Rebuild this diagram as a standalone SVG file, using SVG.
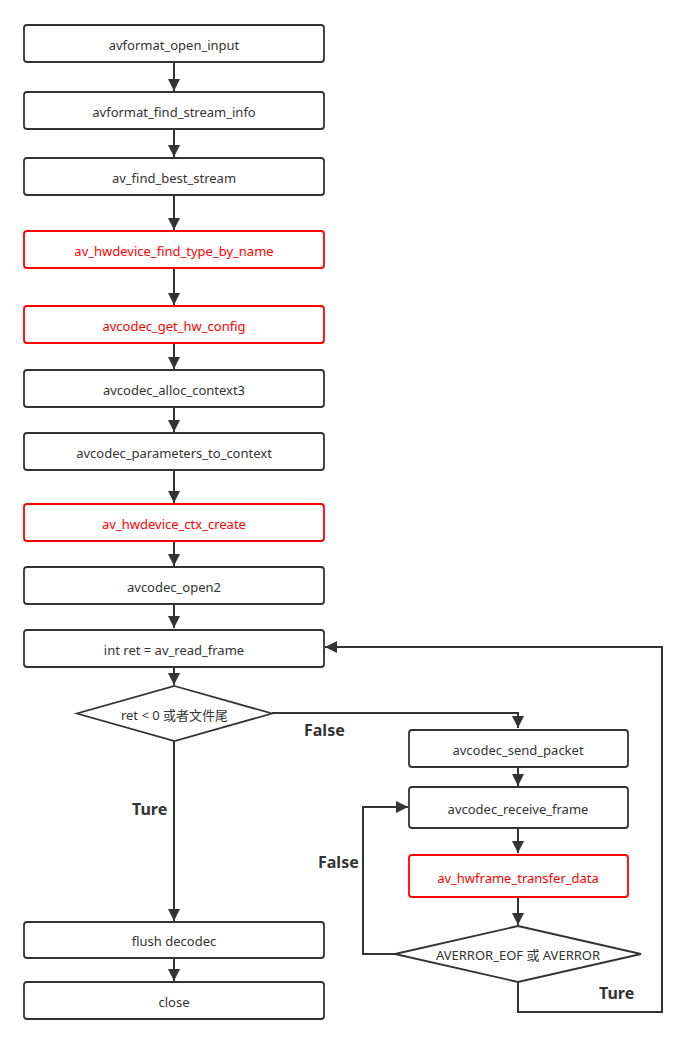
<svg xmlns="http://www.w3.org/2000/svg" width="686" height="1045" viewBox="0 0 686 1045">
<style>
.b{fill:#fff;stroke:#333;stroke-width:1.8}
.r{fill:#fff;stroke:#f00;stroke-width:1.8}
.t{font-family:"Noto Sans","Noto Sans CJK SC",sans-serif;font-size:13px;fill:#333;text-anchor:middle}
.tr{fill:#f00}
.l{font-family:"Noto Sans",sans-serif;font-size:16px;font-weight:bold;fill:#333}
.c{fill:none;stroke:#333;stroke-width:2}
</style>
<defs>
<marker id="a" markerUnits="userSpaceOnUse" markerWidth="12" markerHeight="12" viewBox="0 0 12 12" refX="12" refY="6" orient="auto">
<path d="M0,0 L12,6 L0,12 z" fill="#333"/>
</marker>
</defs>
<rect width="686" height="1045" fill="#fff"/>
<g id="connectors">
<path class="c" d="M174,62 V91" marker-end="url(#a)"/>
<path class="c" d="M174,129 V157" marker-end="url(#a)"/>
<path class="c" d="M174,195 V230" marker-end="url(#a)"/>
<path class="c" d="M174,268 V305" marker-end="url(#a)"/>
<path class="c" d="M174,343 V369" marker-end="url(#a)"/>
<path class="c" d="M174,407 V432" marker-end="url(#a)"/>
<path class="c" d="M174,470 V503" marker-end="url(#a)"/>
<path class="c" d="M174,541 V566" marker-end="url(#a)"/>
<path class="c" d="M174,604 V628" marker-end="url(#a)"/>
<path class="c" d="M174,667 V685" marker-end="url(#a)"/>
<path class="c" d="M174,741 V921" marker-end="url(#a)"/>
<path class="c" d="M174,958 V981" marker-end="url(#a)"/>
<path class="c" d="M272,713 H518 V728" marker-end="url(#a)"/>
<path class="c" d="M518,767 V786" marker-end="url(#a)"/>
<path class="c" d="M518,828 V853" marker-end="url(#a)"/>
<path class="c" d="M518,897 V925" marker-end="url(#a)"/>
<path class="c" d="M395,954 H363 V807 H408" marker-end="url(#a)"/>
<path class="c" d="M518,982 V1012 H662 V647 H325" marker-end="url(#a)"/>
<text class="l" x="304" y="736">False</text>
<text class="l" x="132" y="815">Ture</text>
<text class="l" x="318" y="868">False</text>
<text class="l" x="599" y="999">Ture</text>
</g>
<g id="n1"><rect class="b" x="24" y="25" width="300" height="37" rx="3"/><text class="t" x="174" y="50">avformat_open_input</text></g>
<g id="n2"><rect class="b" x="24" y="92" width="300" height="37" rx="3"/><text class="t" x="174" y="117">avformat_find_stream_info</text></g>
<g id="n3"><rect class="b" x="24" y="158" width="300" height="37" rx="3"/><text class="t" x="174" y="183">av_find_best_stream</text></g>
<g id="n4"><rect class="r" x="24" y="231" width="300" height="37" rx="3"/><text class="t tr" x="174" y="256">av_hwdevice_find_type_by_name</text></g>
<g id="n5"><rect class="r" x="24" y="306" width="300" height="37" rx="3"/><text class="t tr" x="174" y="331">avcodec_get_hw_config</text></g>
<g id="n6"><rect class="b" x="24" y="370" width="300" height="37" rx="3"/><text class="t" x="174" y="395">avcodec_alloc_context3</text></g>
<g id="n7"><rect class="b" x="24" y="433" width="300" height="37" rx="3"/><text class="t" x="174" y="458">avcodec_parameters_to_context</text></g>
<g id="n8"><rect class="r" x="24" y="504" width="300" height="37" rx="3"/><text class="t tr" x="174" y="529">av_hwdevice_ctx_create</text></g>
<g id="n9"><rect class="b" x="24" y="567" width="300" height="37" rx="3"/><text class="t" x="174" y="592">avcodec_open2</text></g>
<g id="n10"><rect class="b" x="24" y="630" width="300" height="37" rx="3"/><text class="t" x="174" y="655">int ret = av_read_frame</text></g>
<g id="d1"><polygon class="b" points="174.5,686 272,713.5 174.5,741 77,713.5"/><text class="t" x="174.5" y="720">ret &lt; 0 或者文件尾</text></g>
<g id="n11"><rect class="b" x="409" y="730" width="219" height="37" rx="3"/><text class="t" x="518" y="755">avcodec_send_packet</text></g>
<g id="n12"><rect class="b" x="409" y="787" width="219" height="41" rx="3"/><text class="t" x="518" y="814">avcodec_receive_frame</text></g>
<g id="n13"><rect class="r" x="409" y="855" width="219" height="42" rx="3"/><text class="t tr" x="518" y="883">av_hwframe_transfer_data</text></g>
<g id="d2"><polygon class="b" points="518,926 641,954 518,982 395,954"/><text class="t" x="518" y="960">AVERROR_EOF 或 AVERROR</text></g>
<g id="n14"><rect class="b" x="24" y="922" width="300" height="36" rx="3"/><text class="t" x="174" y="946">flush decodec</text></g>
<g id="n15"><rect class="b" x="24" y="982" width="300" height="37" rx="3"/><text class="t" x="174" y="1007">close</text></g>
</svg>
